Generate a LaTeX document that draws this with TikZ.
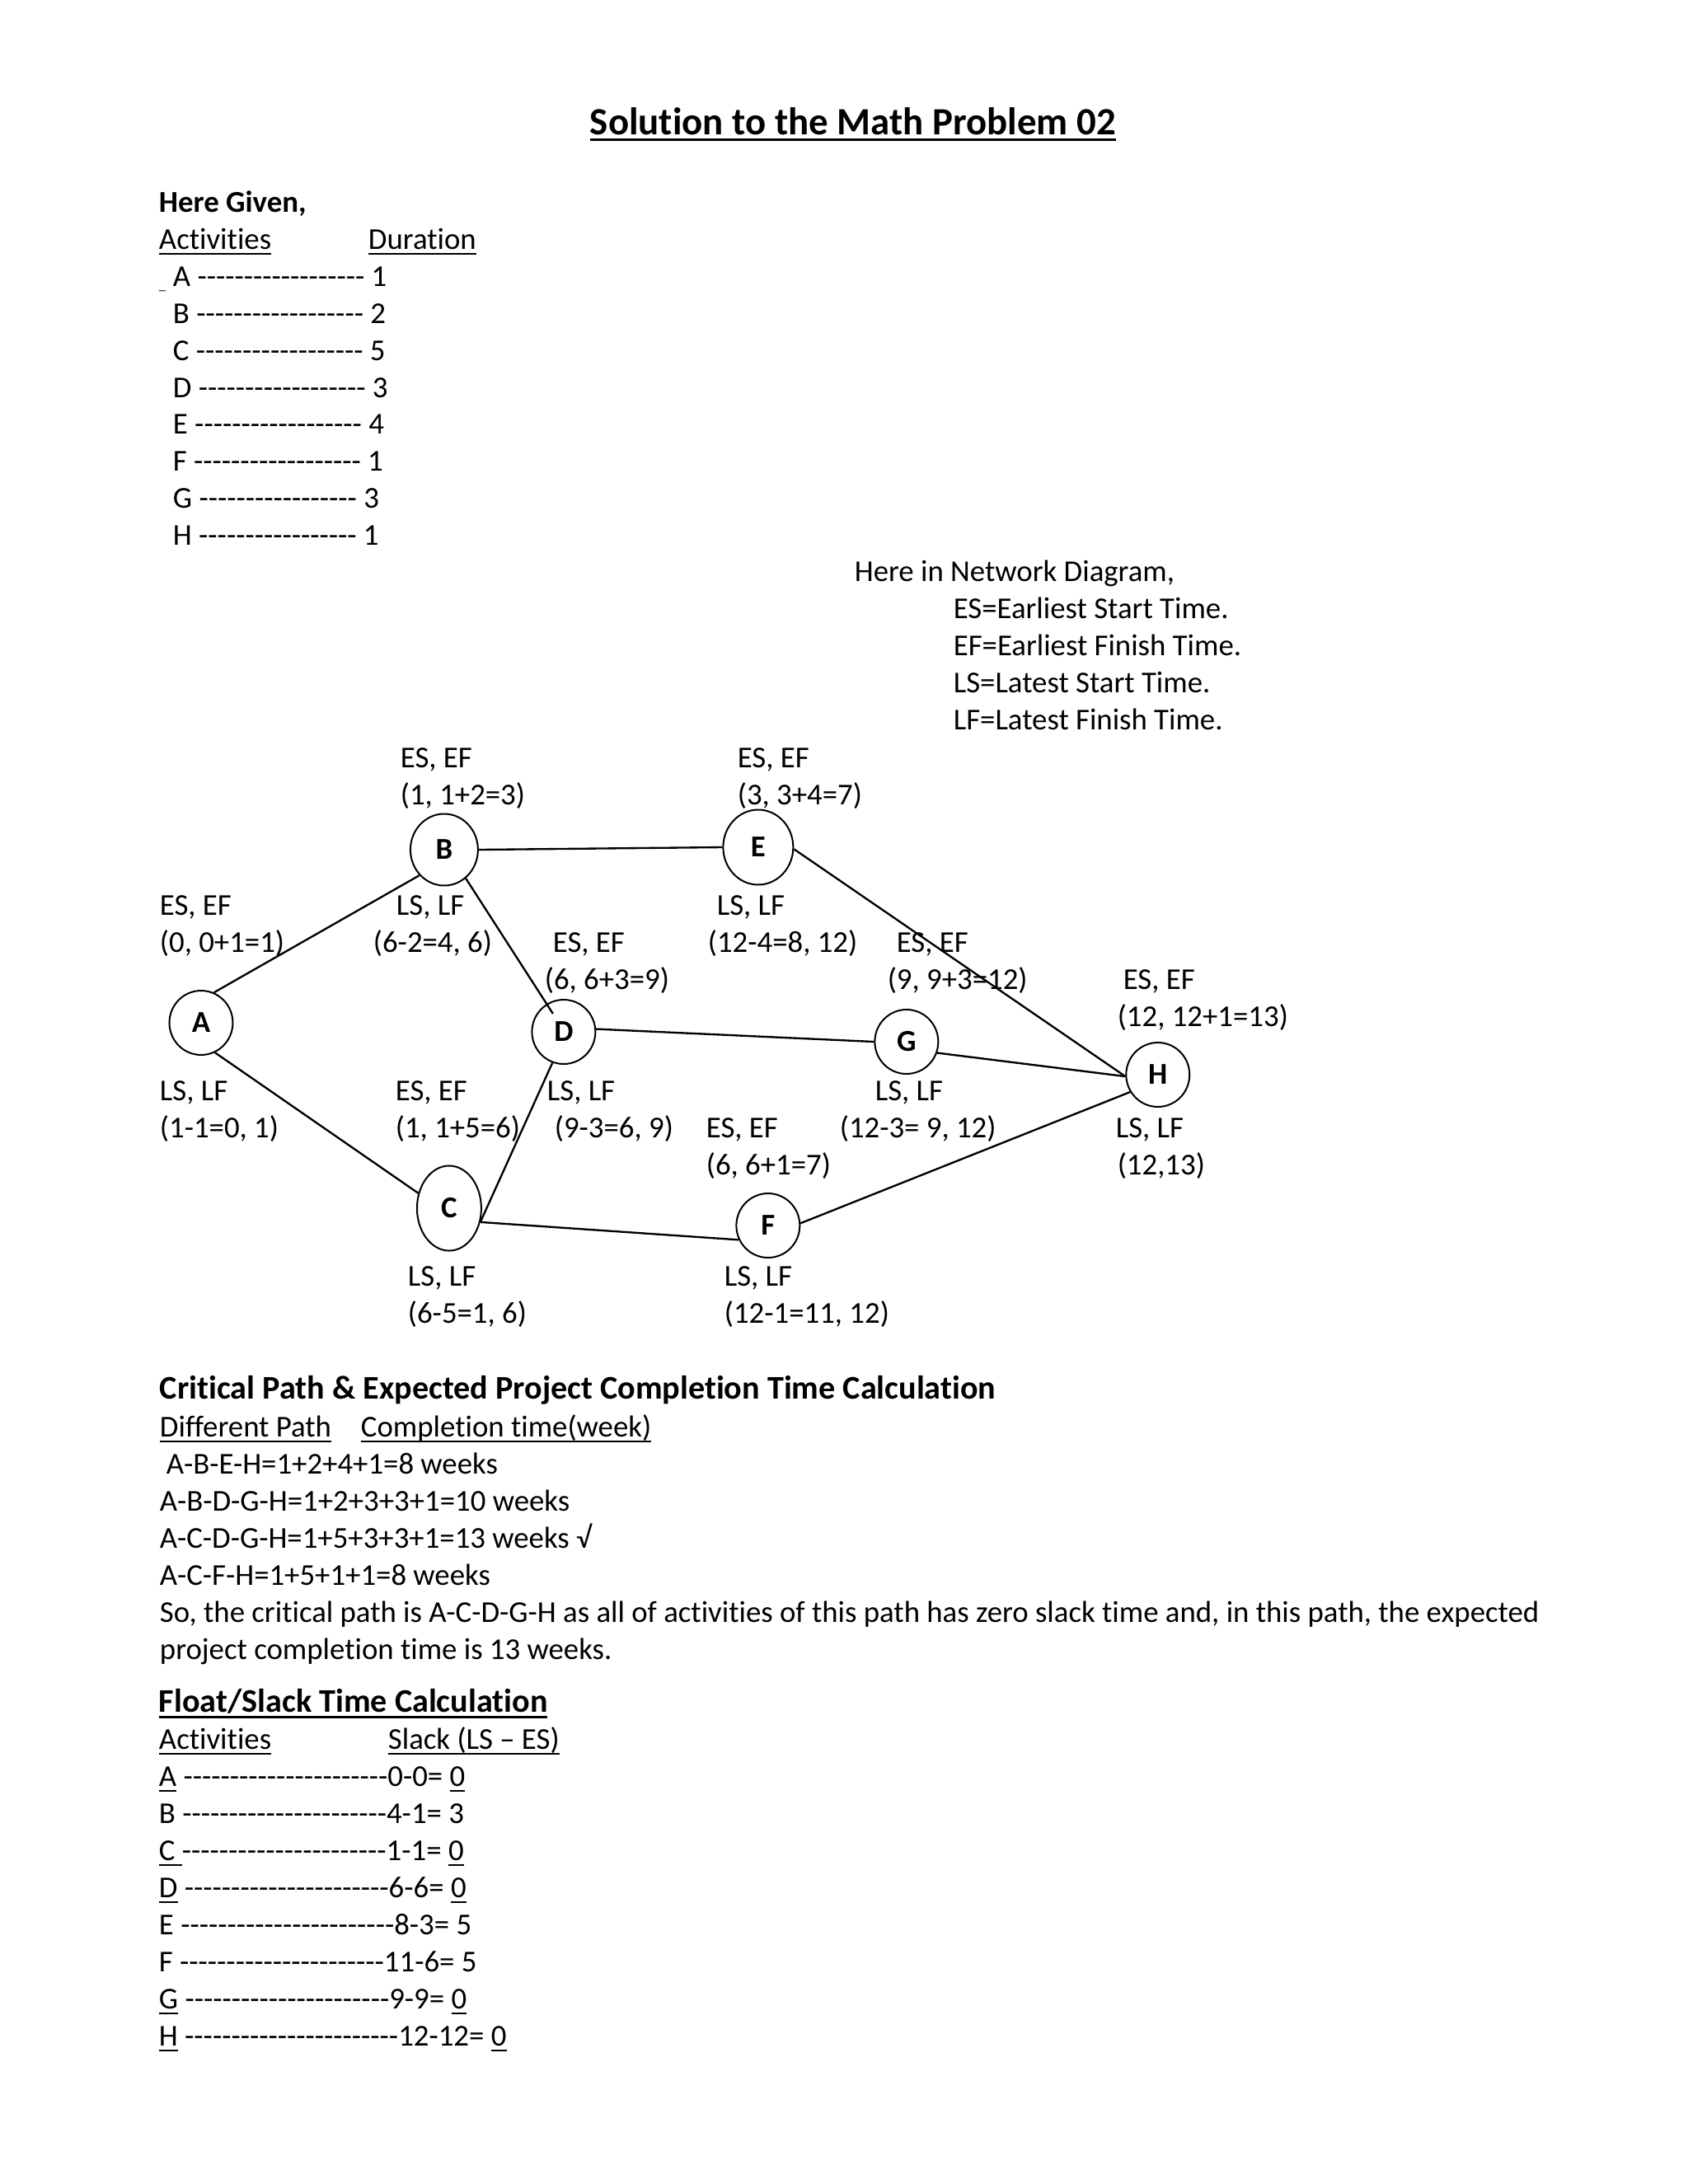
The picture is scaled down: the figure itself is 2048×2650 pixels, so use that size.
\documentclass[tikz,border=0pt]{standalone}
\usepackage{fontspec}
\setmainfont{Carlito}[Ligatures=CommonOff]
\usetikzlibrary{shapes.geometric,calc}
\newsavebox\ulbox
\newcommand\ul[1]{\sbox\ulbox{#1}\rlap{\rule[-2.0pt]{\wd\ulbox}{0.6pt}}\usebox\ulbox}
\newcommand\ulb[1]{\sbox\ulbox{#1}\rlap{\rule[-2.3pt]{\wd\ulbox}{0.9pt}}\usebox\ulbox}
\newcount\hycnt
\newcommand\hyrun[1]{\hycnt=#1\relax\loop\ifnum\hycnt>0 \hbox{-}\advance\hycnt by -1\relax\repeat}
\begin{document}
\begin{tikzpicture}[x=0.29883pt,y=-0.29887pt,
  txt/.style={anchor=base west,inner sep=0pt,outer sep=0pt,font=\fontsize{11}{13.4}\selectfont},
  btxt/.style={txt,font=\fontsize{11}{13.4}\selectfont\bfseries},
  htxt/.style={txt,font=\fontsize{12}{14.6}\selectfont\bfseries},
  circ/.style={ellipse,draw,line width=0.6pt,inner sep=0pt,font=\fontsize{11}{13.4}\selectfont\bfseries,
               minimum width=23pt,minimum height=23.3pt},
  edge/.style={line width=0.7pt}]
\fill[white] (0,0) rectangle (2048,2650);
\useasboundingbox (0,0) rectangle (2048,2650);

% title
\node[anchor=base,inner sep=0pt,font=\fontsize{14}{17}\selectfont\bfseries] (title) at (1035,163) {\ulb{Solution to the Math Problem 02}};

% given table
\node[btxt] (given) at (193,257) {Here Given,};
\node[txt] (gAct) at (193,302) {\ul{Activities}};
\node[txt] (gDur) at (447,302) {\ul{Duration}};
\node[txt,font=\fontsize{5}{6}\selectfont] (stray) at (193,351) {\_};
\node[txt] (gA) at (210,347) {A \hyrun{18} 1};
\node[txt] (gB) at (210,392) {B \hyrun{18} 2};
\node[txt] (gC) at (210,437) {C \hyrun{18} 5};
\node[txt] (gD) at (210,482) {D \hyrun{18} 3};
\node[txt] (gE) at (210,526) {E \hyrun{18} 4};
\node[txt] (gF) at (210,571) {F \hyrun{18} 1};
\node[txt] (gG) at (210,616) {G \hyrun{17} 3};
\node[txt] (gH) at (210,661) {H \hyrun{17} 1};

% legend
\node[txt] (lg0) at (1037,705) {Here in Network Diagram,};
\node[txt] (lg1) at (1157,750) {ES=Earliest Start Time.};
\node[txt] (lg2) at (1157,795) {EF=Earliest Finish Time.};
\node[txt] (lg3) at (1157,840) {LS=Latest Start Time.};
\node[txt] (lg4) at (1157,885) {LF=Latest Finish Time.};

% network nodes
\node[circ] (A) at (244,1241) {A};
\node[circ,minimum width=24.5pt,minimum height=26pt] (B) at (539,1031) {B};
\node[circ,minimum width=23.3pt,minimum height=30.8pt] (C) at (545,1466) {C};
\node[circ] (D) at (684,1252) {D};
\node[circ,minimum width=25.4pt,minimum height=27.2pt] (E) at (920,1028) {E};
\node[circ] (F) at (932,1487) {F};
\node[circ] (G) at (1100,1264) {G};
\node[circ] (H) at (1405,1304) {H};
\coordinate (Din) at ($(D.center)+(-13,-22)$);

% connectors
\draw[edge] (A.67) -- (B.226);
\draw[edge] (A.295) -- (C.154);
\draw[edge] (B.east) -- (E.west);
\draw[edge] (B.307) -- (Din);
\draw[edge] (C.336) -- (D.250);
\draw[edge] (C.336) -- (F.206);
\draw[edge] (D.5) -- (G.west);
\draw[edge] (E.357) -- (H.183);
\draw[edge] (G.340) -- (H.183);
\draw[edge] (F.4) -- (H.212);

% network labels
\node[txt] (Bes) at (486,931) {ES, EF};
\node[txt] (Bev) at (486,976) {(1, 1+2=3)};
\node[txt] (Ees) at (895,931) {ES, EF};
\node[txt] (Eev) at (895,976) {(3, 3+4=7)};
\node[txt] (Aes) at (194,1110) {ES, EF};
\node[txt] (Aev) at (194,1155) {(0, 0+1=1)};
\node[txt] (Bls) at (481,1110) {LS, LF};
\node[txt] (Blv) at (453,1155) {(6-2=4, 6)};
\node[txt] (Els) at (870,1110) {LS, LF};
\node[txt] (Elv) at (859,1155) {(12-4=8, 12)};
\node[txt] (Des) at (671,1155) {ES, EF};
\node[txt] (Dev) at (661,1200) {(6, 6+3=9)};
\node[txt] (Ges) at (1088,1155) {ES, EF};
\node[txt] (Gev) at (1077,1200) {(9, 9+3=12)};
\node[txt] (Hes) at (1363,1200) {ES, EF};
\node[txt] (Hev) at (1356,1245) {(12, 12+1=13)};
\node[txt] (Als) at (194,1335) {LS, LF};
\node[txt] (Alv) at (194,1380) {(1-1=0, 1)};
\node[txt] (Ces) at (480,1335) {ES, EF};
\node[txt] (Cev) at (480,1380) {(1, 1+5=6)};
\node[txt] (Dls) at (664,1335) {LS, LF};
\node[txt] (Dlv) at (673,1380) {(9-3=6, 9)};
\node[txt] (Gls) at (1062,1335) {LS, LF};
\node[txt] (Glv) at (1019,1380) {(12-3= 9, 12)};
\node[txt] (Fes) at (857,1380) {ES, EF};
\node[txt] (Fev) at (857,1425) {(6, 6+1=7)};
\node[txt] (Hls) at (1354,1380) {LS, LF};
\node[txt] (Hlv) at (1356,1425) {(12,13)};
\node[txt] (Cls) at (495,1560) {LS, LF};
\node[txt] (Clv) at (495,1605) {(6-5=1, 6)};
\node[txt] (Fls) at (879,1560) {LS, LF};
\node[txt] (Flv) at (879,1605) {(12-1=11, 12)};

% critical path
\node[htxt] (crit) at (194,1697) {Critical Path \& Expected Project Completion Time Calculation};
\node[txt] (cDP) at (194,1743) {\ul{Different Path}};
\node[txt] (cCT) at (438,1743) {\ul{Completion time(week)}};
\node[txt] (p1) at (202,1788) {A-B-E-H=1+2+4+1=8 weeks};
\node[txt] (p2) at (194,1833) {A-B-D-G-H=1+2+3+3+1=10 weeks};
\node[txt] (p3) at (194,1878) {A-C-D-G-H=1+5+3+3+1=13 weeks √};
\node[txt] (p4) at (194,1923) {A-C-F-H=1+5+1+1=8 weeks};
\node[txt] (so1) at (194,1968) {So, the critical path is A-C-D-G-H as all of activities of this path has zero slack time and, in this path, the expected};
\node[txt] (so2) at (194,2013) {project completion time is 13 weeks.};

% slack
\node[htxt] (flt) at (193,2077) {\ulb{Float/Slack Time Calculation}};
\node[txt] (sAct) at (193,2122) {\ul{Activities}};
\node[txt] (sSl) at (471,2122) {\ul{Slack (LS – ES)}};
\node[txt] (sA) at (193,2167) {\ul{A} \hyrun{22}0-0= \ul{0}};
\node[txt] (sB) at (193,2212) {B \hyrun{22}4-1= 3};
\node[txt] (sC) at (193,2257) {\ul{C\ }\hyrun{22}1-1= \ul{0}};
\node[txt] (sD) at (193,2302) {\ul{D} \hyrun{22}6-6= \ul{0}};
\node[txt] (sE) at (193,2347) {E \hyrun{23}8-3= 5};
\node[txt] (sF) at (193,2392) {F \hyrun{22}11-6= 5};
\node[txt] (sG) at (193,2437) {\ul{G} \hyrun{22}9-9= \ul{0}};
\node[txt] (sH) at (193,2482) {\ul{H} \hyrun{23}12-12= \ul{0}};
\end{tikzpicture}
\end{document}
